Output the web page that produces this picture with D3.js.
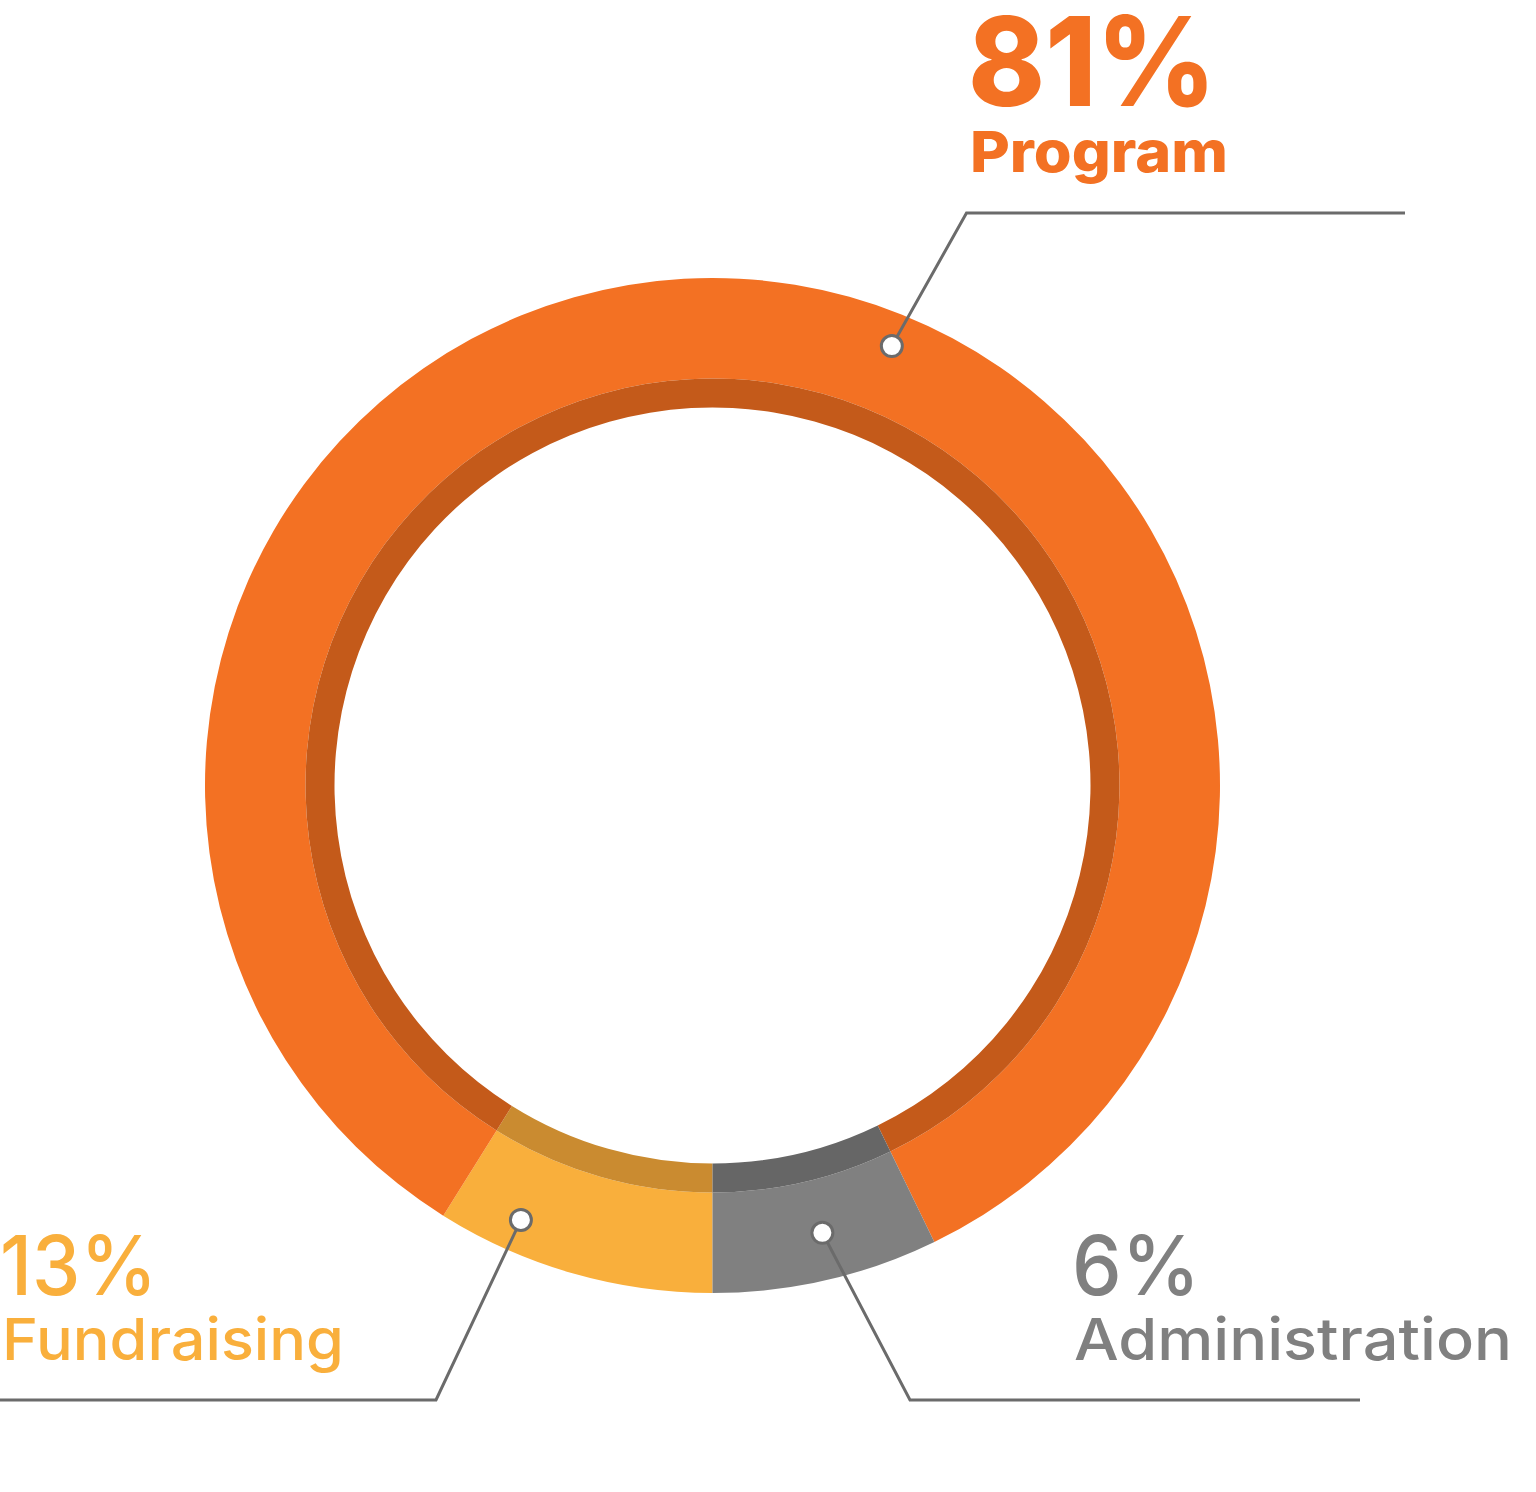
<!DOCTYPE html>
<html>
<head>
<meta charset="utf-8">
<script src="https://cdn.jsdelivr.net/npm/d3@7"></script>
<style>
    html, body { margin: 0; padding: 0; background: #fff; }
    svg { display: block; }
    .label { font-family: Inter, 'Open Sans', sans-serif; }
</style>
</head>
<body>
<script>
(function () {

    'use strict'

    // categories, in drawing order (clockwise from 6 o'clock)
    const categories = ['Fundraising', 'Program', 'Administration']
    // printed percentages
    const percentLabels = [13, 81, 6]
    // share of the ring each arc actually takes up in the picture (percent of circle)
    const arcShares = [8.9, 83.9, 7.2]

    const colors = ['#f9af3c', '#f37123', '#808080']
    const shades = ['#ca8b30', '#c45a1a', '#666666']

    const width = 1536
        , height = 1492
        , cx = 712.5
        , cy = 785.5
        , outerR = 507.5
        , bandR = 407
        , innerR = 378

    // callout layout: dot angle (deg, clockwise from top), dot radius, elbow, line end, text
    const callouts = {
        'Program': { angle: 22.2, r: 474.6, elbow: [966.5, 213], end: 1405, tx: 968, size1: 124, size2: 57, w1: 248, w2: 258, weight: 800, y1: 106, y2: 172 },
        'Fundraising': { angle: 203.8, r: 474.8, elbow: [436, 1400], end: 0, tx: 0, size1: 82, size2: 58, w1: 157, w2: 342, weight: 500, y1: 1295, y2: 1360 },
        'Administration': { angle: 166.2, r: 460.6, elbow: [910, 1400], end: 1360, tx: 1072, size1: 82, size2: 58, w1: 128, w2: 438, weight: 500, y1: 1295, y2: 1360 }
    }

    const svg = d3.select('body')
        .append('svg')
        .attr('width', width)
        .attr('height', height)

    const pie = d3.pie()
        .sort(null)
        .value(d => d.share)
        .startAngle(Math.PI)
        .endAngle(Math.PI * 3)

    const data = categories.map((c, i) => ({
        name: c,
        pct: percentLabels[i],
        share: arcShares[i],
        color: colors[i],
        shade: shades[i]
    }))

    const arcs = pie(data)

    const ring = d3.arc().innerRadius(bandR).outerRadius(outerR)
    const band = d3.arc().innerRadius(innerR).outerRadius(bandR)

    const g = svg.append('g')
        .attr('transform', 'translate(' + cx + ',' + cy + ')')

    g.selectAll('.slice')
        .data(arcs)
        .enter()
        .append('path')
        .attr('class', 'slice')
        .attr('d', ring)
        .attr('fill', d => d.data.color)

    // darker inner rim
    g.selectAll('.band')
        .data(arcs)
        .enter()
        .append('path')
        .attr('class', 'band')
        .attr('d', band)
        .attr('fill', d => d.data.shade)

    // leader lines, dots and labels
    data.forEach(d => {
        const c = callouts[d.name]
        const p = d3.pointRadial(c.angle * Math.PI / 180, c.r)
        const dot = [cx + p[0], cy + p[1]]

        svg.append('path')
            .attr('d', d3.line()([dot, c.elbow, [c.end, c.elbow[1]]]))
            .attr('fill', 'none')
            .attr('stroke', '#6b6b6b')
            .attr('stroke-width', 3)

        svg.append('circle')
            .attr('cx', dot[0])
            .attr('cy', dot[1])
            .attr('r', 10.5)
            .attr('fill', '#fff')
            .attr('stroke', '#6b6b6b')
            .attr('stroke-width', 3)

        svg.append('text')
            .attr('class', 'label')
            .attr('x', c.tx)
            .attr('y', c.y1)
            .attr('fill', d.color)
            .attr('font-size', c.size1)
            .attr('font-weight', c.weight)
            .attr('textLength', c.w1)
            .attr('lengthAdjust', 'spacingAndGlyphs')
            .text(d.pct + '%')

        svg.append('text')
            .attr('class', 'label')
            .attr('x', c.tx + 2)
            .attr('y', c.y2)
            .attr('fill', d.color)
            .attr('font-size', c.size2)
            .attr('font-weight', c.weight)
            .attr('textLength', c.w2)
            .attr('lengthAdjust', 'spacingAndGlyphs')
            .text(d.name)
    })
})()
</script>
</body>
</html>
